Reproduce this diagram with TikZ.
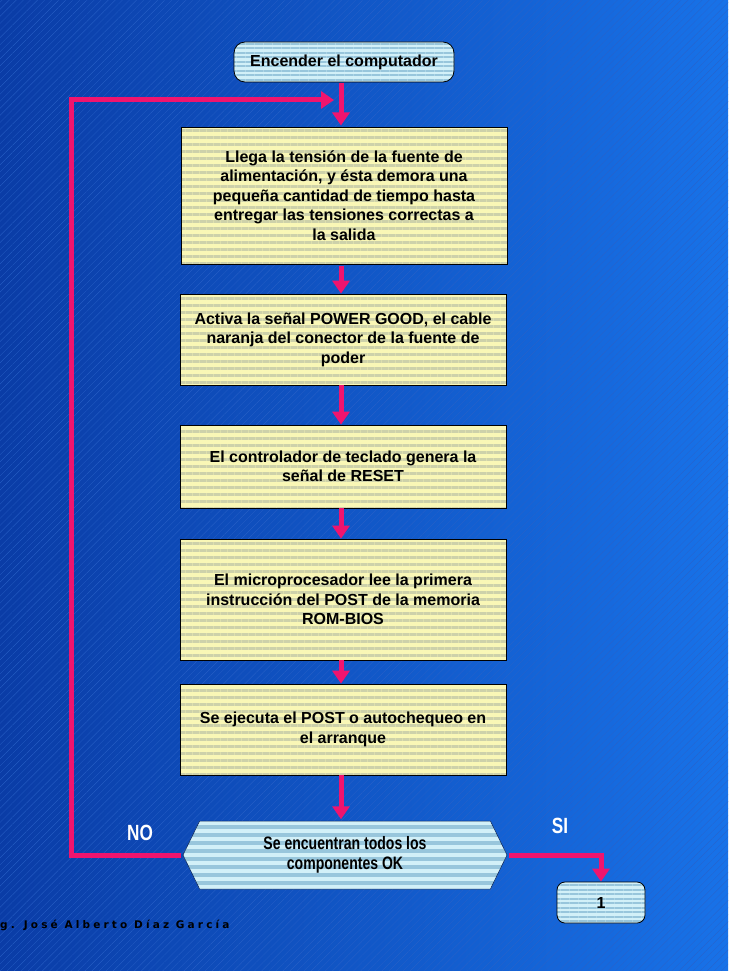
\documentclass[tikz,border=0pt]{standalone}
\usepackage{fontspec}
\setmainfont{Liberation Sans}
\newfontfamily\condfont[FakeStretch=0.78]{Liberation Sans}
\newfontfamily\footfont[LetterSpace=30]{DejaVu Sans}
\usetikzlibrary{shapes.geometric, shapes.symbols, positioning, arrows.meta, patterns.meta}
\definecolor{SlideBlueL}{HTML}{0A3CA6}
\definecolor{SlideBlueR}{HTML}{1872E8}
\definecolor{SlideLine}{HTML}{2A62C8}
\definecolor{FlowPink}{HTML}{F0146E}
\definecolor{BoxYellow}{HTML}{F9F7B6}
\definecolor{BoxStripe}{HTML}{CDD1AA}
\definecolor{TermCyan}{HTML}{D2F0F8}
\definecolor{TermStripe}{HTML}{98C6DC}

\tikzset{
  stepbox/.style={draw=black, line width=0.8pt, preaction={fill=BoxYellow},
    pattern={Lines[distance=7pt, line width=3pt]}, pattern color=BoxStripe,
    minimum width=326pt, align=center, font=\bfseries\fontsize{16}{19.5}\selectfont},
  term/.style={draw=black, line width=0.8pt, rounded corners=11pt, preaction={fill=TermCyan},
    pattern={Lines[distance=4.5pt, line width=2pt]}, pattern color=TermStripe,
    align=center, font=\bfseries\fontsize{16}{19}\selectfont},
  decision/.style={shape=signal, signal to=west and east, signal pointer angle=128,
    draw=SlideBlueL!50!black, line width=0.5pt, preaction={fill=TermCyan},
    pattern={Lines[distance=8pt, line width=3.5pt]}, pattern color=TermStripe,
    minimum width=324pt, minimum height=68pt, align=center,
    font=\condfont\bfseries\fontsize{18}{20}\selectfont},
  lbl/.style={text=white, font=\condfont\bfseries\fontsize{22}{24}\selectfont},
  flow/.style={draw=FlowPink, line width=5pt, -{Triangle[width=17pt, length=13pt]}}
}

\begin{document}
\begin{tikzpicture}[x=1pt, y=-1pt]
  % Background
  \useasboundingbox (0,0) rectangle (728,971);
  \fill[left color=SlideBlueL, right color=SlideBlueR] (0,0) rectangle (728,971);
  \fill[pattern={Lines[angle=45, distance=5pt, line width=0.25pt]}, pattern color=SlideLine]
    (0,0) rectangle (728,971);

  % Nodes
  \node[term, minimum width=220pt, minimum height=40pt] (start) at (344,62) {Encender el computador};
  \node[stepbox, minimum height=137pt] (b1) at (344,195.5) {Llega la tensión de la fuente de\\alimentación, y ésta demora una\\pequeña cantidad de tiempo hasta\\entregar las tensiones correctas a\\la salida};
  \node[stepbox, minimum height=91pt] (b2) at (343,339.5) {Activa la señal POWER GOOD, el cable\\naranja del conector de la fuente de\\poder};
  \node[stepbox, minimum height=83pt] (b3) at (343,466.5) {El controlador de teclado genera la\\señal de RESET};
  \node[stepbox, minimum height=121pt] (b4) at (343,599.5) {El microprocesador lee la primera\\instrucción del POST de la memoria\\ROM-BIOS};
  \node[stepbox, minimum height=91pt] (b5) at (343,729.5) {Se ejecuta el POST o autochequeo en\\el arranque};
  \node[decision] (dec) at (345,855) {Se encuentran todos los\\componentes OK};
  \node[term, rounded corners=8pt, minimum width=88pt, minimum height=41pt] (fin) at (601,902.5) {1};
  \node[lbl] (no) at (140,833) {NO};
  \node[lbl] (si) at (560,826) {SI};
  \node[anchor=west, inner sep=0pt, text=black, font=\footfont\bfseries\fontsize{10.5}{12}\selectfont] (autor) at (0,925) {g. José Alberto Díaz García};
  \coordinate (j) at (334,100);

  % Edges
  \draw[flow] (start.south -| 341,0) -- (b1.north -| 341,0);
  \draw[flow] (b1.south -| 341,0) -- (b2.north -| 341,0);
  \draw[flow] (b2.south -| 341,0) -- (b3.north -| 341,0);
  \draw[flow] (b3.south -| 341,0) -- (b4.north -| 341,0);
  \draw[flow] (b4.south -| 341,0) -- (b5.north -| 341,0);
  \draw[flow] (b5.south -| 341,0) -- (dec.north -| 341,0);
  \draw[flow] (dec.west) -- ++(-110,0) |- (j);
  \draw[flow] (dec.east) -| (fin.north);
\end{tikzpicture}
\end{document}
